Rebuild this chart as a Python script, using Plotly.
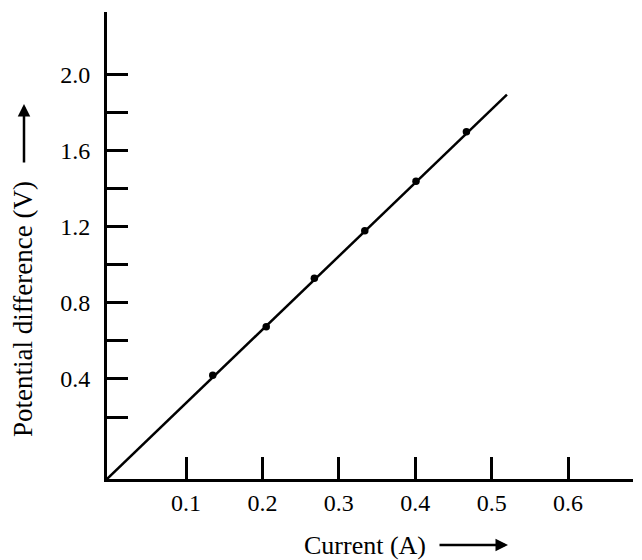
import plotly.graph_objects as go

# Data
current = [0.135, 0.205, 0.268, 0.334, 0.401, 0.467]   # A
voltage = [0.42, 0.675, 0.93, 1.18, 1.44, 1.70]        # V
fit_current = [-0.0034, 0.52]
fit_voltage = [-0.126, 1.895]

x_ticks = [0.1, 0.2, 0.3, 0.4, 0.5, 0.6]
x_ticklabels = ["0.1", "0.2", "0.3", "0.4", "0.5", "0.6"]
y_ticks = [0.2, 0.4, 0.6, 0.8, 1.0, 1.2, 1.4, 1.6, 1.8, 2.0]
y_ticklabels = ["", "0.4", "", "0.8", "", "1.2", "", "1.6", "", "2.0"]

W, H = 642, 560
L, R, T, B = 107, 9, 12, 81
pw, ph = W - L - R, H - T - B

def px(X):
    return (X - L) / pw

def py(Y):
    return (H - B - Y) / ph

font = "Liberation Serif, Times New Roman, serif"

fig = go.Figure()
fig.add_trace(go.Scatter(x=fit_current, y=fit_voltage, mode="lines",
                         line=dict(color="black", width=2.5), hoverinfo="skip",
                         showlegend=False, cliponaxis=False))
fig.add_trace(go.Scatter(x=current, y=voltage, mode="markers",
                         marker=dict(color="black", size=7.5), showlegend=False))

fig.update_layout(
    width=W, height=H,
    margin=dict(l=L, r=R, t=T, b=B),
    paper_bgcolor="white", plot_bgcolor="white",
    font=dict(family=font, color="black", size=24),
    xaxis=dict(range=[-0.0034, 0.685], showgrid=False, zeroline=False,
               showline=True, linecolor="black", linewidth=3,
               ticks="inside", ticklen=22, tickwidth=3, tickcolor="black",
               tickvals=x_ticks, ticktext=x_ticklabels,
               ticklabelstandoff=0, tickfont=dict(family=font, size=24)),
    yaxis=dict(range=[-0.126, 2.33], showgrid=False, zeroline=False,
               showline=True, linecolor="black", linewidth=3,
               ticks="inside", ticklen=21, tickwidth=3, tickcolor="black",
               tickvals=y_ticks, ticktext=y_ticklabels,
               ticklabelstandoff=9, tickfont=dict(family=font, size=24)),
)

# Axis titles
fig.add_annotation(text="Current (A)", xref="paper", yref="paper",
                   x=px(365), y=py(545), showarrow=False,
                   font=dict(family=font, size=26), xanchor="center", yanchor="middle")
fig.add_annotation(text="Potential difference (V)", xref="paper", yref="paper",
                   x=px(23), y=py(309), showarrow=False, textangle=-90,
                   font=dict(family=font, size=27), xanchor="center", yanchor="middle")

# Arrows
fig.add_annotation(text="", xref="paper", yref="paper", x=px(508), y=py(545),
                   ax=-70, ay=0, showarrow=True, arrowhead=2, arrowsize=1,
                   arrowwidth=2.5, arrowcolor="black")
fig.add_annotation(text="", xref="paper", yref="paper", x=px(24), y=py(104),
                   ax=0, ay=60, showarrow=True, arrowhead=2, arrowsize=1,
                   arrowwidth=2.5, arrowcolor="black")

fig.write_html("out.html")
